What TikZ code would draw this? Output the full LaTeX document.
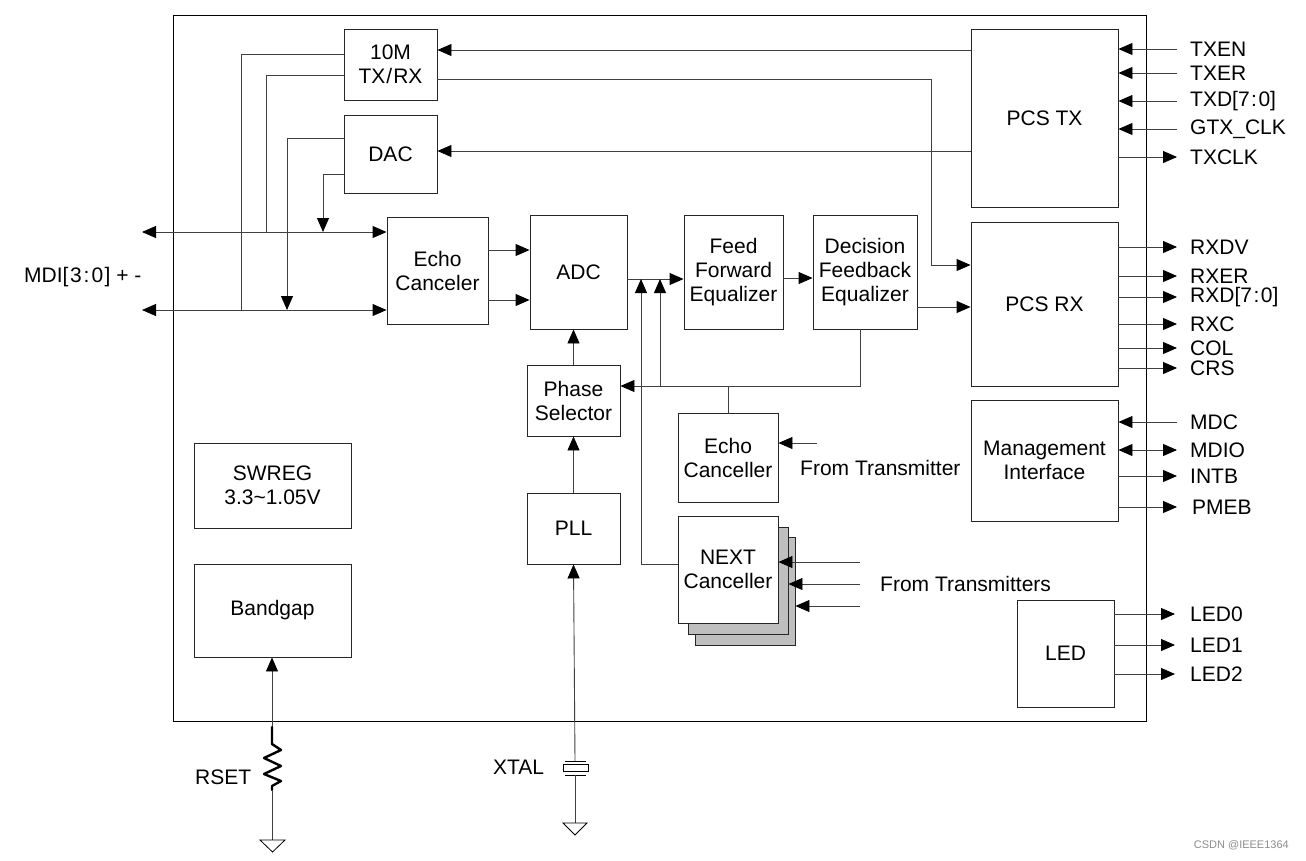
\documentclass[tikz,border=0pt]{standalone}
\usepackage{fontspec}
\setmainfont{Liberation Sans}
\usetikzlibrary{arrows.meta,calc}
\newcommand{\dgfont}{\fontsize{21}{24}\selectfont}
\begin{document}
\begin{tikzpicture}[x=1pt,y=-1pt,
  >={Triangle[length=14pt,width=12pt,color=black]},
  box/.style={draw=black!85, line width=0.9pt, inner sep=0pt, align=center, font=\dgfont, fill=white},
  conn/.style={draw=black!75, line width=0.9pt},
  arr/.style={conn, ->},
  lbl/.style={inner sep=0pt, anchor=west, font=\dgfont},
]
\useasboundingbox (0,0) rectangle (1306,860);
% chip frame
\node[draw=black, line width=0.9pt, minimum width=973pt, minimum height=706pt, inner sep=0pt] (chip) at (659.5,368) {};

% blocks
\node[box, minimum width=93pt, minimum height=71pt] (tenm) at (390.5,64.5) {10M\\TX\kern1pt/\kern1pt RX};
\node[box, minimum width=93pt, minimum height=78pt] (dac) at (390.5,154) {DAC};
\node[box, minimum width=101pt, minimum height=107pt] (echo) at (437.5,270.5) {Echo\\Canceler};
\node[box, minimum width=97pt, minimum height=114pt] (adc) at (578.5,272) {ADC};
\node[box, minimum width=99pt, minimum height=114pt] (ffe) at (733.5,272) {Feed\\Forward\\Equalizer};
\node[box, minimum width=104pt, minimum height=114pt] (dfe) at (865,272) {Decision\\Feedback\\Equalizer};
\node[box, minimum width=93pt, minimum height=71pt] (phase) at (573.5,400.5) {Phase\\Selector};
\node[box, minimum width=93pt, minimum height=71pt] (pll) at (573.5,528.5) {PLL};
\node[box, minimum width=100pt, minimum height=89pt] (ec) at (728,457.5) {Echo\\Canceller};
\node[box, fill=black!25, minimum width=100pt, minimum height=108pt] (nexts3) at (745,591) {};
\node[box, fill=black!25, minimum width=100pt, minimum height=107pt] (nexts2) at (738,580.5) {};
\node[box, minimum width=100pt, minimum height=107pt] (next) at (728,569.5) {NEXT\\Canceller};
\node[box, minimum width=157pt, minimum height=85pt] (swreg) at (272.5,485.5) {SWREG\\3.3\char`~1.05V};
\node[box, minimum width=157pt, minimum height=93pt] (bandgap) at (272.5,610.5) {Bandgap};
\node[box, minimum width=147pt, minimum height=178pt] (pcstx) at (1044.5,118) {PCS TX};
\node[box, minimum width=147pt, minimum height=164pt] (pcsrx) at (1044.5,304) {PCS RX};
\node[box, minimum width=147pt, minimum height=121pt] (mgmt) at (1044.5,460.5) {Management\\Interface};
\node[box, minimum width=97pt, minimum height=107pt] (led) at (1065.5,653.5) {LED};

% MDI lines
\node[lbl] (mdi) at (24,277) {MDI[\kern1.5pt3\kern2pt:\kern2pt0\kern1.5pt] + -};
\coordinate (mdiA) at (142,232);
\coordinate (mdiB) at (142,310);
\draw[conn,<->] (mdiA) -- (echo.west |- mdiA);
\draw[conn,<->] (mdiB) -- (echo.west |- mdiB);
\draw[conn] (tenm.west |- 0,54) -| (241,310);
\draw[conn] (tenm.west |- 0,75) -| (266,232);
\draw[arr] (dac.west |- 0,138) -| (287,310);
\draw[arr] (dac.west |- 0,174) -| (323,232);

% PCS TX to 10M / DAC, 10M to PCS RX
\draw[arr] (pcstx.west |- 0,50) -- (tenm.east |- 0,50);
\draw[arr] (pcstx.west |- 0,151) -- (dac.east |- 0,151);
\draw[arr] (tenm.east |- 0,79) -| (931,265) -- (pcsrx.west |- 0,265);

% datapath
\draw[arr] (echo.east |- 0,250) -- (adc.west |- 0,250);
\draw[arr] (echo.east |- 0,300) -- (adc.west |- 0,300);
\draw[arr] (adc.east |- 0,279) -- (ffe.west |- 0,279);
\draw[arr] (ffe.east |- 0,278) -- (dfe.west |- 0,278);
\draw[arr] (dfe.east |- 0,307) -- (pcsrx.west |- 0,307);
\draw[arr] (dfe.south -| 860,0) |- (phase.east |- 0,386);
\draw[conn] (ec.north) -- (ec.north |- 0,386);
\coordinate (fbj) at (660,386);
\draw[arr] (fbj) -- (660,279);
\draw[arr] (next.west |- 0,564) -| (641,279);
\draw[arr] (phase.north) -- (phase.north |- adc.south);
\draw[arr] (pll.north) -- (phase.south);

% from transmitters
\node[lbl] (ft1) at (800,468) {From Transmitter};
\draw[arr] (817,443) -- (ec.east |- 0,443);
\node[lbl] (ft2) at (880,584) {From Transmitters};
\draw[arr] (860,562) -- (next.east |- 0,562);
\draw[arr] (860,584) -- (nexts2.east |- 0,584);
\draw[arr] (860,606) -- (nexts3.east |- 0,606);

% XTAL
\coordinate (xt) at (575,761);
\draw[arr] (xt) -- (pll.south);
\draw[line width=0.9pt] (565,761) -- (586,761);
\draw[line width=0.9pt] (563,764.5) rectangle (588,771.5);
\draw[line width=0.9pt] (565,775) -- (586,775);
\draw[conn] (575,775) -- (575,823);
\draw[line width=0.8pt] (563,823) -- (587,823) -- (575,835) -- cycle;
\node[lbl] (xtal) at (493,767) {XTAL};

% RSET
\draw[arr] (272,727) -- (bandgap.south -| 272,0);
\draw[line width=2.4pt, line join=round, line cap=round] (272,727) -- (272,744) -- (281,750) -- (264,758) -- (281,766) -- (264,774) -- (281,781) -- (272,786) -- (272,790);
\draw[conn] (272,790) -- (272,840);
\draw[line width=0.8pt] (260,840) -- (285,840) -- (272.5,852) -- cycle;
\node[lbl] (rset) at (195,777) {RSET};

% PCS TX signals
\foreach \n/\t/\y in {txen/TXEN/49, txer/TXER/73, txd/{TXD[7\kern1.5pt:\kern1.5pt0]}/101, gtx/{GTX\_CLK}/129} {
  \node[lbl] (\n) at (1190,\y) {\t};
  \draw[arr] ([xshift=-13pt]\n.west) -- (pcstx.east |- \n.west);
}
\node[lbl] (txclk) at (1190,157) {TXCLK};
\draw[arr] (pcstx.east |- txclk.west) -- ([xshift=-13pt]txclk.west);

% PCS RX signals
\foreach \n/\t/\y in {rxdv/RXDV/247, rxer/RXER/276, rxd/{RXD[7\kern1.5pt:\kern1.5pt0]}/297, rxc/RXC/324, col/COL/348, crs/CRS/368} {
  \node[lbl] (\n) at (1190,\y) {\t};
  \draw[arr] (pcsrx.east |- \n.west) -- ([xshift=-13pt]\n.west);
}

% Management signals
\node[lbl] (mdc) at (1190,422) {MDC};
\draw[arr] ([xshift=-13pt]mdc.west) -- (mgmt.east |- mdc.west);
\node[lbl] (mdio) at (1190,450) {MDIO};
\draw[conn,<->] (mgmt.east |- mdio.west) -- ([xshift=-13pt]mdio.west);
\node[lbl] (intb) at (1190,476) {INTB};
\draw[arr] (mgmt.east |- intb.west) -- ([xshift=-13pt]intb.west);
\node[lbl] (pmeb) at (1192,507) {PMEB};
\draw[arr] (mgmt.east |- pmeb.west) -- ([xshift=-15pt]pmeb.west);

% LED signals
\foreach \n/\t/\y in {led0/LED0/614, led1/LED1/645, led2/LED2/674} {
  \node[lbl] (\n) at (1190,\y) {\t};
  \draw[arr] (led.east |- \n.west) -- ([xshift=-15pt]\n.west);
}

% watermark
\node[inner sep=0pt, anchor=east, font=\fontsize{11}{13}\selectfont, text=black!45] (wm) at (1289,845) {CSDN @IEEE1364};
\end{tikzpicture}
\end{document}
